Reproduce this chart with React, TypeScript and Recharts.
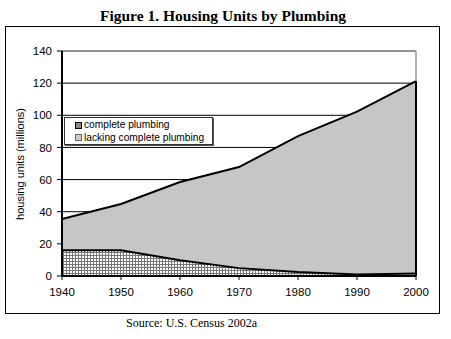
import React from "react";
import { AreaChart, Area, XAxis, YAxis, CartesianGrid, ReferenceLine } from "recharts";

const years = [1940, 1950, 1960, 1970, 1980, 1990, 2000];
const totalUnits = [35.5, 44.8, 58.5, 67.8, 87.0, 102.3, 121.2];
const lackingPlumbing = [16.0, 16.0, 9.8, 4.9, 2.5, 1.0, 1.5];
const yTicks = [0, 20, 40, 60, 80, 100, 120, 140];
const legendLabels = ["complete plumbing", "lacking complete plumbing"];
const title = "Figure 1. Housing Units by Plumbing";
const source = "Source: U.S. Census 2002a";
const yLabel = "housing units (millions)";

const data = years.map((y, i) => ({ year: y, total: totalUnits[i], lacking: lackingPlumbing[i] }));

const sans = "'Liberation Sans', Arial, sans-serif";
const serif = "'Liberation Serif', 'Times New Roman', serif";

const LegendBox = () => (
  <div
    style={{
      position: "absolute",
      left: 64,
      top: 117,
      width: 149,
      height: 28,
      border: "1px solid #333",
      boxShadow: "1px 1px 0 #555",
      background: "#fff",
      fontFamily: sans,
      fontSize: 10.2,
      color: "#000",
      boxSizing: "border-box",
      paddingLeft: 10,
      paddingTop: 1,
      lineHeight: "12.5px",
    }}
  >
    {legendLabels.map((l, i) => (
      <div key={l} style={{ display: "flex", alignItems: "center" }}>
        <span
          style={{
            display: "inline-block",
            width: 7,
            height: 7,
            boxSizing: "border-box",
            border: i === 0 ? "1.5px solid #000" : "1px solid #666",
            background: i === 0 ? "#888" : "#ccc",
            marginRight: 2,
          }}
        />
        <span>{l}</span>
      </div>
    ))}
  </div>
);

export default function App() {
  return (
    <div style={{ position: "absolute", left: 0, top: 0, width: 451, height: 339, background: "#fff" }}>
      <div
        style={{
          position: "absolute",
          left: 0,
          width: 446,
          top: 7,
          textAlign: "center",
          fontFamily: serif,
          fontWeight: "bold",
          fontSize: 15.5,
          lineHeight: "18px",
        }}
      >
        {title}
      </div>
      <div
        style={{
          position: "absolute",
          left: 5,
          top: 26,
          width: 435,
          height: 288,
          border: "1.5px solid #000",
          boxSizing: "border-box",
        }}
      />
      <div
        style={{
          position: "absolute",
          left: 126,
          top: 315,
          fontFamily: serif,
          fontSize: 12,
          lineHeight: "16px",
        }}
      >
        {source}
      </div>
      <div
        style={{
          position: "absolute",
          left: 20,
          top: 164,
          transform: "translate(-50%, -50%) rotate(-90deg)",
          whiteSpace: "nowrap",
          fontFamily: sans,
          fontSize: 11,
          lineHeight: "12px",
        }}
      >
        {yLabel}
      </div>
      <div style={{ position: "absolute", left: 0, top: 0 }}>
        <AreaChart width={451} height={339} data={data} margin={{ top: 51, right: 35, bottom: 33, left: 22 }}>
          <defs>
            <pattern id="hatch" width="3" height="3" patternUnits="userSpaceOnUse">
              <rect width="3" height="3" fill="#fff" />
              <rect width="3" height="1" fill="#777" />
              <rect width="1" height="3" fill="#777" />
            </pattern>
          </defs>
          <CartesianGrid vertical={false} stroke="#000" strokeWidth={1} />
          <XAxis
            dataKey="year"
            type="number"
            domain={[1940, 2000]}
            ticks={years}
            height={30}
            tickSize={4}
            tickMargin={8}
            axisLine={{ stroke: "#000", strokeWidth: 2 }}
            tickLine={{ stroke: "#000" }}
            tick={{ fill: "#000", fontSize: 11.5, fontFamily: sans }}
          />
          <YAxis
            domain={[0, 140]}
            ticks={yTicks}
            width={40}
            tickSize={5}
            tickMargin={5}
            axisLine={{ stroke: "#000", strokeWidth: 2 }}
            tickLine={{ stroke: "#000" }}
            tick={{ fill: "#000", fontSize: 11.5, fontFamily: sans }}
          />
          <Area
            type="linear"
            dataKey="total"
            stroke="#000"
            strokeWidth={2}
            fill="#c6c6c6"
            fillOpacity={1}
            isAnimationActive={false}
          />
          <Area
            type="linear"
            dataKey="lacking"
            stroke="#000"
            strokeWidth={2}
            fill="url(#hatch)"
            fillOpacity={1}
            isAnimationActive={false}
          />
          <ReferenceLine y={140} stroke="#999" strokeWidth={1.5} />
          <ReferenceLine x={2000} stroke="#999" strokeWidth={1.5} />
          <ReferenceLine
            segment={[
              { x: years[years.length - 1], y: 0 },
              { x: years[years.length - 1], y: totalUnits[totalUnits.length - 1] },
            ]}
            stroke="#000"
            strokeWidth={2}
          />
        </AreaChart>
      </div>
      <LegendBox />
    </div>
  );
}
